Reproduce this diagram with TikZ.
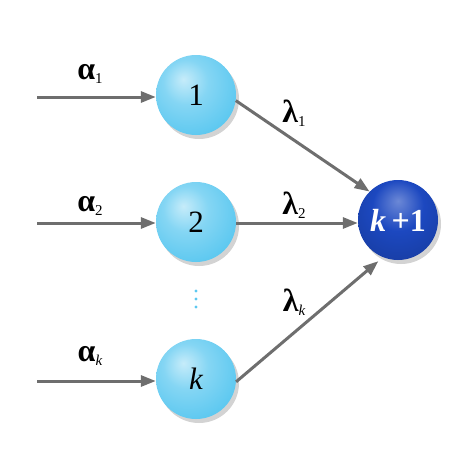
\documentclass[tikz,border=0pt]{standalone}
\usepackage{fontspec}
\setmainfont{Liberation Serif}
\usetikzlibrary{arrows.meta,shadows}
\definecolor{ballcyan}{HTML}{5CC8F0}
\definecolor{balldark}{HTML}{1C48C0}
\definecolor{arrgray}{HTML}{6E6E6E}
\pgfdeclareradialshading{cyanball}{\pgfpoint{-8bp}{10bp}}{color(0bp)=(ballcyan!35!white);
  color(14bp)=(ballcyan!75!white); color(32bp)=(ballcyan); color(50bp)=(ballcyan!88!black); color(70bp)=(ballcyan!75!black)}
\pgfdeclareradialshading{darkball}{\pgfpoint{0bp}{12bp}}{color(0bp)=(balldark!65!white);
  color(16bp)=(balldark); color(40bp)=(balldark!80!black); color(65bp)=(balldark!55!black)}
\newcommand\rate[2]{\textbf{#1}\raisebox{-0.25ex}{\fontsize{15}{15}\selectfont #2}}
\begin{document}
\begin{tikzpicture}[x=1pt,y=-1pt,
  ball/.style={circle,minimum size=80pt,inner sep=0pt,shading=cyanball,
    drop shadow={shadow xshift=3pt,shadow yshift=-4pt,opacity=0.35},font=\fontsize{31}{31}\selectfont},
  flow/.style={draw=arrgray,line width=3pt,-{Triangle[length=15pt,width=11pt]}},
  lab/.style={font=\fontsize{32}{32}\selectfont}]
\useasboundingbox (0,0) rectangle (474,474);
\node[ball] (n1) at (196,95) {1};
\node[ball] (n2) at (196,222) {2};
\node[ball] (nk) at (196,379) {\itshape k};
\node[ball,shading=darkball,text=white,font=\fontsize{32}{32}\bfseries] (nk1) at (398,220) {\itshape k\,\upshape+1};
\coordinate (a1) at (37,97); \coordinate (a2) at (37,223); \coordinate (ak) at (37,381);
\draw[flow] (a1)--(n1.west|-a1);
\draw[flow] (a2)--(n2.west|-a2);
\draw[flow] (ak)--(nk.west|-ak);
\draw[flow] (n1.-8)--(nk1.135);
\draw[flow] (n2.east|-a2)--(nk1.west|-a2);
\draw[flow,shorten >=6pt] (nk.-4)--(nk1.-112);
\foreach\y in {291,299,307}\fill[ballcyan] (196,\y) circle (1.6pt);
\node[lab] at (90,74) {\rate{α}{1}};
\node[lab] at (90,206) {\rate{α}{2}};
\node[lab] at (90,356) {\rate{α}{\itshape k}};
\node[lab] at (294,113) {\rate{λ}{1}};
\node[lab] at (294,205) {\rate{λ}{2}};
\node[lab] at (294,302) {\rate{λ}{\itshape k}};
\end{tikzpicture}
\end{document}
